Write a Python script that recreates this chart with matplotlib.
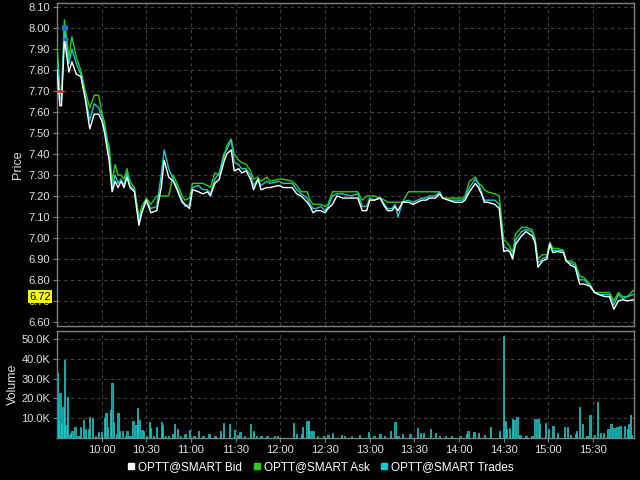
import matplotlib
matplotlib.use('Agg')
import matplotlib.pyplot as plt
import matplotlib.transforms as mtransforms
from matplotlib.lines import Line2D
from matplotlib.ticker import FuncFormatter

plt.rcParams['font.family'] = ['Liberation Sans', 'DejaVu Sans']

# price series (bid / ask / trades)
times = [
    '9:30', '9:32', '9:33', '9:35', '9:38', '9:40', '9:43', '9:46',
    '9:49', '9:52', '9:55', '9:58', '10:00', '10:02', '10:04', '10:05',
    '10:07', '10:09', '10:11', '10:13', '10:15', '10:17', '10:19', '10:22',
    '10:25', '10:27', '10:30', '10:33', '10:37', '10:40', '10:42', '10:45',
    '10:48', '10:50', '10:54', '10:56', '10:59', '11:01', '11:05', '11:08',
    '11:11', '11:13', '11:16', '11:19', '11:22', '11:24', '11:27', '11:29',
    '11:32', '11:34', '11:37', '11:40', '11:42', '11:45', '11:47', '11:51',
    '11:53', '11:59', '12:02', '12:08', '12:11', '12:14', '12:18', '12:20',
    '12:22', '12:24', '12:27', '12:30', '12:32', '12:35', '12:38', '12:42',
    '12:47', '12:52', '12:55', '12:58', '13:00', '13:03', '13:07', '13:10',
    '13:12', '13:15', '13:17', '13:19', '13:22', '13:26', '13:29', '13:32',
    '13:35', '13:38', '13:40', '13:44', '13:47', '13:49', '13:53', '13:57',
    '14:02', '14:04', '14:07', '14:11', '14:13', '14:15', '14:17', '14:19',
    '14:24', '14:27', '14:30', '14:32', '14:34', '14:36', '14:38', '14:42',
    '14:45', '14:49', '14:51', '14:53', '14:56', '14:59', '15:01', '15:03',
    '15:06', '15:10', '15:12', '15:15', '15:18', '15:21', '15:24', '15:28',
    '15:31', '15:34', '15:38', '15:41', '15:44', '15:47', '15:50', '15:53',
    '15:57',
]
bid = [
    7.80, 7.63, 7.63, 7.95, 7.79, 7.84, 7.78, 7.77,
    7.66, 7.52, 7.59, 7.59, 7.56, 7.50, 7.41, 7.37,
    7.22, 7.27, 7.24, 7.27, 7.24, 7.29, 7.24, 7.22,
    7.06, 7.12, 7.18, 7.12, 7.13, 7.24, 7.37, 7.29,
    7.27, 7.24, 7.17, 7.16, 7.14, 7.23, 7.22, 7.21,
    7.22, 7.20, 7.26, 7.28, 7.36, 7.40, 7.42, 7.32,
    7.33, 7.31, 7.32, 7.28, 7.23, 7.28, 7.23, 7.24,
    7.24, 7.25, 7.24, 7.24, 7.21, 7.20, 7.17, 7.15,
    7.12, 7.13, 7.13, 7.12, 7.14, 7.16, 7.20, 7.19,
    7.19, 7.19, 7.13, 7.13, 7.18, 7.18, 7.19, 7.15,
    7.13, 7.13, 7.15, 7.13, 7.17, 7.17, 7.16, 7.17,
    7.18, 7.18, 7.19, 7.19, 7.21, 7.19, 7.18, 7.17,
    7.17, 7.18, 7.22, 7.26, 7.24, 7.21, 7.17, 7.17,
    7.16, 7.14, 6.935, 6.94, 6.935, 6.90, 6.97, 7.01,
    7.03, 7.01, 6.98, 6.86, 6.89, 6.90, 6.97, 6.93,
    6.935, 6.93, 6.89, 6.87, 6.86, 6.78, 6.78, 6.77,
    6.74, 6.73, 6.72, 6.72, 6.66, 6.70, 6.705, 6.70,
    6.705,
]
ask = [
    7.92, 7.70, 7.68, 8.04, 7.86, 7.96, 7.86, 7.80,
    7.70, 7.62, 7.68, 7.68, 7.60, 7.55, 7.46, 7.44,
    7.27, 7.35, 7.30, 7.30, 7.28, 7.33, 7.27, 7.24,
    7.10, 7.15, 7.19, 7.16, 7.20, 7.20, 7.20, 7.20,
    7.30, 7.27, 7.20, 7.18, 7.19, 7.26, 7.26, 7.26,
    7.25, 7.24, 7.31, 7.30, 7.38, 7.44, 7.47, 7.40,
    7.37, 7.36, 7.35, 7.32, 7.28, 7.29, 7.27, 7.29,
    7.27, 7.28, 7.28, 7.27, 7.25, 7.22, 7.22, 7.18,
    7.16, 7.16, 7.16, 7.15, 7.16, 7.22, 7.22, 7.22,
    7.22, 7.22, 7.18, 7.20, 7.20, 7.20, 7.19, 7.18,
    7.17, 7.17, 7.17, 7.17, 7.17, 7.22, 7.22, 7.22,
    7.22, 7.22, 7.22, 7.22, 7.22, 7.19, 7.19, 7.19,
    7.19, 7.20, 7.27, 7.29, 7.26, 7.25, 7.23, 7.22,
    7.21, 7.20, 6.99, 6.98, 6.96, 6.93, 7.02, 7.05,
    7.05, 7.04, 7.00, 6.90, 6.92, 6.92, 6.98, 6.95,
    6.95, 6.94, 6.89, 6.89, 6.88, 6.82, 6.81, 6.78,
    6.74, 6.74, 6.74, 6.74, 6.70, 6.74, 6.72, 6.72,
    6.75,
]
trades = [
    7.88, 7.66, 7.66, 8.00, 7.83, 7.90, 7.83, 7.78,
    7.68, 7.56, 7.64, 7.62, 7.58, 7.52, 7.44, 7.40,
    7.24, 7.30, 7.26, 7.28, 7.25, 7.31, 7.25, 7.23,
    7.08, 7.13, 7.18, 7.14, 7.15, 7.30, 7.42, 7.33,
    7.28, 7.25, 7.18, 7.15, 7.16, 7.24, 7.25, 7.23,
    7.23, 7.21, 7.28, 7.31, 7.40, 7.42, 7.47, 7.36,
    7.35, 7.33, 7.33, 7.30, 7.25, 7.28, 7.25, 7.27,
    7.26, 7.27, 7.26, 7.26, 7.23, 7.21, 7.19, 7.16,
    7.14, 7.14, 7.15, 7.13, 7.15, 7.20, 7.21, 7.21,
    7.20, 7.21, 7.15, 7.15, 7.19, 7.18, 7.19, 7.16,
    7.14, 7.14, 7.16, 7.10, 7.17, 7.18, 7.17, 7.18,
    7.19, 7.19, 7.20, 7.20, 7.22, 7.19, 7.18, 7.18,
    7.18, 7.19, 7.24, 7.28, 7.26, 7.22, 7.18, 7.18,
    7.18, 7.16, 6.96, 6.95, 6.94, 6.91, 6.99, 7.03,
    7.04, 7.03, 6.99, 6.88, 6.90, 6.91, 6.97, 6.94,
    6.94, 6.94, 6.89, 6.88, 6.87, 6.80, 6.80, 6.77,
    6.74, 6.73, 6.73, 6.73, 6.68, 6.73, 6.71, 6.72,
    6.73,
]

# volume bars (thousands of shares)
vol_times = [
    '9:30', '9:31', '9:32', '9:33', '9:34', '9:35', '9:36', '9:37', '9:38', '9:39',
    '9:40', '9:42', '9:44', '9:46', '9:48', '9:49', '9:51', '9:52', '9:54', '9:56',
    '9:58', '10:00', '10:02', '10:03', '10:04', '10:06', '10:07', '10:08', '10:10', '10:11',
    '10:12', '10:14', '10:16', '10:17', '10:19', '10:21', '10:23', '10:24', '10:25', '10:27',
    '10:28', '10:30', '10:32', '10:33', '10:35', '10:37', '10:40', '10:41', '10:43', '10:45',
    '10:48', '10:49', '10:51', '10:53', '10:56', '10:59', '11:02', '11:05', '11:08', '11:12',
    '11:16', '11:20', '11:22', '11:26', '11:29', '11:31', '11:33', '11:36', '11:40', '11:42',
    '11:44', '11:47', '11:51', '11:56', '11:58', '12:09', '12:11', '12:14', '12:15', '12:18',
    '12:19', '12:20', '12:22', '12:25', '12:29', '12:32', '12:35', '12:41', '12:43', '12:48',
    '12:53', '12:59', '13:03', '13:07', '13:10', '13:14', '13:17', '13:19', '13:22', '13:27',
    '13:32', '13:34', '13:36', '13:41', '13:44', '13:47', '13:51', '13:55', '14:01', '14:05',
    '14:06', '14:10', '14:13', '14:17', '14:21', '14:27', '14:30', '14:31', '14:32', '14:34',
    '14:36', '14:37', '14:39', '14:41', '14:45', '14:49', '14:51', '14:53', '14:54', '14:58',
    '15:00', '15:03', '15:06', '15:11', '15:13', '15:15', '15:18', '15:19', '15:21', '15:23',
    '15:26', '15:28', '15:31', '15:33', '15:35', '15:37', '15:40', '15:42', '15:44', '15:46',
    '15:48', '15:51', '15:53', '15:54', '15:55', '15:56',
]
vol_k = [
    32.8, 8.7, 22.8, 7.2, 15.8, 39.5, 6.5, 20.8, 1.7, 2.5,
    3.3, 5.3, 1.2, 5.8, 9.2, 4.5, 4.5, 10.8, 10.3, 1.2,
    2.8, 2.8, 10.0, 12.8, 5.5, 14.0, 27.8, 8.0, 2.2, 12.8,
    3.3, 3.3, 1.2, 3.3, 1.2, 8.8, 6.7, 15.3, 9.2, 4.2,
    3.3, 1.2, 8.3, 5.0, 1.2, 5.5, 8.0, 6.7, 1.2, 1.2,
    2.2, 7.0, 4.5, 1.2, 2.2, 4.2, 0.8, 3.3, 1.2, 2.2,
    1.2, 3.3, 7.5, 7.2, 4.2, 1.7, 2.8, 1.2, 7.0, 3.3,
    1.2, 0.8, 1.2, 0.8, 1.2, 7.5, 2.2, 2.2, 5.8, 8.7,
    8.7, 3.3, 3.3, 0.8, 1.2, 1.7, 2.5, 1.7, 0.8, 0.8,
    1.7, 2.8, 1.2, 2.0, 1.2, 3.7, 8.2, 1.2, 2.0, 2.0,
    5.0, 2.5, 2.5, 4.5, 2.5, 1.2, 0.8, 1.2, 0.8, 2.0,
    3.7, 2.8, 2.5, 1.7, 5.3, 3.7, 51.5, 8.7, 4.5, 4.8,
    9.8, 9.3, 10.7, 1.7, 1.2, 1.2, 9.5, 9.5, 7.0, 7.5,
    4.5, 6.2, 2.5, 5.3, 5.3, 1.7, 2.0, 3.7, 15.8, 7.0,
    0.8, 11.5, 1.7, 18.3, 2.5, 2.5, 4.5, 7.0, 4.8, 5.3,
    6.2, 6.2, 4.5, 7.0, 11.7, 1.7,
]

# order markers drawn near the open
blue_marks = [8.00, 7.95]
red_mark = 7.70
last_price = 6.72

price_ticks = [6.6 + 0.1 * i for i in range(16)]
volume_ticks = [10000, 20000, 30000, 40000, 50000]
time_ticks = ['10:00', '10:30', '11:00', '11:30', '12:00', '12:30', '13:00',
              '13:30', '14:00', '14:30', '15:00', '15:30']


def to_min(s):
    h, m = s.split(':')
    return int(h) * 60 + int(m)


def fmt_time(x, pos):
    x = int(round(x))
    return f'{x // 60}:{x % 60:02d}'


BG = 'black'
FRAME = '#808080'
GRID = '#404040'
TXT = '#e0e0e0'

t = [to_min(s) for s in times]
vt = [to_min(s) for s in vol_times]

fig = plt.figure(figsize=(6.4, 4.8), dpi=100, facecolor=BG)
ax = fig.add_axes([57 / 640, 1 - 326 / 480, 577 / 640, 323 / 480], facecolor=BG)
axv = fig.add_axes([57 / 640, 1 - 438 / 480, 577 / 640, 107 / 480], facecolor=BG, sharex=ax)

ax.plot(t, ask, color='#2ecc0a', lw=1.0, zorder=3)
ax.plot(t, trades, color='#19c8cc', lw=1.0, zorder=4)
ax.plot(t, bid, color='white', lw=1.0, zorder=5)

ax.hlines(blue_marks, to_min('9:33') + 0.2, to_min('9:37') + 0.6,
          colors='#1e6fd0', lw=[4, 2.2], zorder=6)
ax.hlines(red_mark, to_min('9:30'), to_min('9:34') + 0.5, colors='#e02020', lw=1.8, zorder=6)

axv.bar(vt, [v * 1000 for v in vol_k], width=0.9, color='#0a9a9a',
        edgecolor='#28cccc', linewidth=0.5, zorder=3)

x0, x1 = to_min('9:30'), to_min('15:58') - 0.5
for a in (ax, axv):
    a.set_xlim(x0, x1)
    for sp in a.spines.values():
        sp.set_color(FRAME)
        sp.set_linewidth(1.0)
    a.grid(True, color=GRID, linestyle=(0, (3, 3)), linewidth=0.8)
    a.set_axisbelow(True)
    a.tick_params(colors=TXT, labelsize=8, length=3, width=0.8, pad=2)
    a.tick_params(axis='both', color=FRAME)

ax.set_ylim(6.58, 8.12)
ax.set_yticks(price_ticks)
ax.yaxis.set_major_formatter(FuncFormatter(lambda v, p: f'{v:.2f}'))
ax.tick_params(axis='x', labelbottom=False, length=0)
ax.set_ylabel('Price', color=TXT, fontsize=9)
ax.yaxis.set_label_coords(-0.058, 0.5)

axv.set_ylim(0, 54000)
axv.set_yticks(volume_ticks)
axv.yaxis.set_major_formatter(FuncFormatter(lambda v, p: f'{v / 1000:.1f}K'))
axv.set_xticks([to_min(s) for s in time_ticks])
axv.xaxis.set_major_formatter(FuncFormatter(fmt_time))
axv.set_ylabel('Volume', color=TXT, fontsize=9)
axv.yaxis.set_label_coords(-0.066, 0.5)

# last price tag on the price axis (covers the 6.70 tick label as in the original)
trans = mtransforms.blended_transform_factory(ax.transAxes, ax.transData)
ax.text(-0.011, last_price, f'{last_price:.2f}', transform=trans, ha='right', va='center',
        fontsize=8, color='black', zorder=10,
        bbox=dict(boxstyle='square,pad=0.12', fc='#ffff00', ec='none'))

handles = [
    Line2D([], [], ls='none', marker='s', ms=4, color='white'),
    Line2D([], [], ls='none', marker='s', ms=4, color='#2ecc0a'),
    Line2D([], [], ls='none', marker='s', ms=4, color='#19c8cc'),
]
labels = ['OPTT@SMART Bid', 'OPTT@SMART Ask', 'OPTT@SMART Trades']
fig.legend(handles, labels, loc='center', bbox_to_anchor=(0.5, 0.027), ncol=3,
           frameon=False, fontsize=8.5, labelcolor='white', handletextpad=0.2,
           columnspacing=0.8, handlelength=0.8)

fig.savefig('out.png', dpi=100, facecolor=BG)
